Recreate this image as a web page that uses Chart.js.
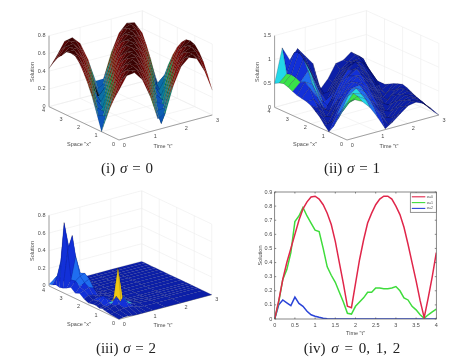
<!DOCTYPE html>
<html><head><meta charset="utf-8">
<script src="https://cdn.jsdelivr.net/npm/chart.js@4"></script>
<style>
html,body{margin:0;padding:0;background:#fff;width:474px;height:363px;overflow:hidden}
.p{position:absolute;width:237px;height:182px}
.p canvas{filter:blur(.35px)}
.c{position:absolute;transform:translateX(-50%);font:15px "Liberation Serif",serif;color:#222;white-space:pre;word-spacing:1px}
.c i{font-style:italic}
</style></head><body>
<div class="p" style="left:0;top:0"><canvas id="a" width="237" height="182"></canvas></div>
<div class="p" style="left:237px;top:0"><canvas id="b" width="237" height="182"></canvas></div>
<div class="p" style="left:0;top:182px"><canvas id="c" width="237" height="182"></canvas></div>
<div class="p" style="left:237px;top:182px"><canvas id="d" width="237" height="182"></canvas></div>
<div class="c" style="left:127px;top:160px">(i) <i>σ</i> = 0</div>
<div class="c" style="left:352px;top:160px">(ii) <i>σ</i> = 1</div>
<div class="c" style="left:126px;top:340px">(iii) <i>σ</i> = 2</div>
<div class="c" style="left:352px;top:340px;word-spacing:2px">(iv) <i>σ</i> = 0, 1, 2</div>
<script>
const timeTicks=[0,1,2,3];
const spaceTicks=[0,1,2,3,4];
const gridT=[0,.25,.5,.75,1,1.25,1.5,1.75,2,2.25,2.5,2.75,3];
const gridX=[0,.25,.5,.75,1,1.25,1.5,1.75,2,2.25,2.5,2.75,3,3.25,3.5,3.75,4];
const sigma0=[
[.56,.70,.71,.61,.40,.12,.17,.45,.64,.72,.68,.52,.28],
[.45,.64,.72,.68,.52,.27,.02,.31,.55,.69,.71,.62,.42],
[.32,.55,.69,.71,.62,.42,.14,.15,.42,.62,.71,.69,.55],
[.16,.43,.63,.72,.69,.54,.30,.01,.28,.53,.68,.72,.64],
[0,.29,.53,.68,.72,.63,.44,.17,.12,.41,.61,.71,.70],
[.16,.13,.42,.61,.71,.70,.56,.32,.03,.26,.51,.67,.72],
[.32,.02,.27,.51,.67,.72,.65,.46,.19,.10,.38,.60,.71],
[.45,.18,.11,.39,.60,.71,.70,.57,.34,.06,.23,.49,.66],
[.56,.34,.05,.24,.50,.66,.72,.66,.47,.22,.07,.37,.58],
[.65,.47,.21,.08,.37,.59,.71,.71,.59,.37,.08,.22,.47],
[.71,.58,.36,.07,.22,.48,.66,.72,.66,.50,.24,.05,.34],
[.72,.66,.49,.23,.06,.35,.57,.70,.71,.60,.39,.11,.19],
[.71,.71,.60,.38,.10,.20,.46,.65,.72,.67,.51,.27,.02],
[.65,.72,.67,.51,.26,.03,.32,.56,.70,.71,.61,.41,.13],
[.60,.70,.71,.61,.40,.12,.17,.44,.63,.72,.68,.53,.29],
[.52,.64,.72,.68,.52,.28,.01,.30,.54,.69,.72,.63,.43],
[.43,.55,.69,.71,.62,.42,.15,.15,.42,.62,.71,.69,.55]];
const sigma1=[
[.75,.8,.72,.55,.3,.02,.12,.25,.37,.4,.33,.18,0],
[.55,.72,.78,.68,.5,.25,.02,.15,.3,.38,.34,.2,.02],
[.35,.6,.8,.75,.62,.38,.12,.08,.27,.36,.35,.24,.05],
[.15,.42,.72,.82,.72,.5,.28,.02,.18,.3,.35,.27,.08],
[0,.3,.6,.78,.8,.65,.42,.15,.08,.26,.33,.3,.11],
[.1,.12,.42,.7,.82,.74,.55,.3,.03,.18,.3,.33,.17],
[.22,.03,.28,.55,.78,.85,.68,.45,.18,.08,.25,.32,.22],
[.3,.15,.1,.42,.68,.82,.8,.6,.33,.05,.2,.3,.27],
[.38,.28,.05,.25,.55,.78,.88,.72,.48,.2,.06,.22,.3],
[.42,.42,.2,.08,.4,.68,.82,.85,.62,.35,.08,.18,.27],
[.44,.62,.38,.08,.25,.55,.78,.9,.72,.48,.22,.06,.23],
[.46,.7,.6,.25,.06,.38,.62,.8,.78,.6,.38,.1,.18],
[.5,.65,.85,.45,.1,.2,.48,.68,.75,.72,.5,.25,.13],
[.55,.7,1.05,.7,.3,.04,.32,.55,.7,.72,.6,.35,.08],
[.58,.72,1.15,.85,.5,.14,.16,.4,.58,.66,.68,.45,.02],
[.55,.7,1.1,1.0,.68,.35,.02,.25,.48,.6,.7,.58,.15],
[.5,1.2,.9,1.1,.9,.7,.12,.3,.57,.6,.72,.6,.25]];
const sigma1Shade=["443210000000","343211000000","233210000000","122211000000","011111000000","001111000000","000111000000","000111000000","100110001000","110011000000","122100011000","123210000000","413210000000","410000000000","410000000000","310000000000"];
const gridT2=[0,.15,.3,.45,.6,.75,.9,1.1,1.5,2,3];
const gridX2=[0,.5,.8,.95,1.12,1.3,1.45,1.75,2,2.25,2.5,2.75,3,3.2,3.4,3.6,3.8,4];
const sigma2=[
[0,.01,.01,0,0,0,0,0,0,0,0],
[.01,.02,.03,.04,.04,.03,.01,0,0,0,0],
[.02,.03,.05,.05,.13,.04,.02,.01,0,0,0],
[.03,.04,.06,.13,.05,.05,.02,.01,0,0,0],
[.02,.03,.05,.06,.42,.06,.02,.01,0,0,0],
[.03,.05,.1,.05,.05,.03,.01,0,0,0,0],
[.03,.06,.1,.05,.02,.02,.01,0,0,0,0],
[.02,.04,.05,.03,.01,.01,0,0,0,0,0],
[.04,.07,.06,.04,.02,.01,0,0,0,0,0],
[.08,.1,.12,.1,.03,.01,0,0,0,0,0],
[.06,.12,.15,.18,.04,.01,0,0,0,0,0],
[.1,.16,.2,.22,.05,.01,0,0,0,0,0],
[.07,.15,.4,.2,.05,.01,0,0,0,0,0],
[.05,.45,.62,.2,.04,.01,0,0,0,0,0],
[.04,.76,.48,.14,.03,.01,0,0,0,0,0],
[.05,.3,.25,.1,.02,.01,0,0,0,0,0],
[.03,.12,.1,.05,.01,0,0,0,0,0,0],
[.02,.06,.05,.02,.01,0,0,0,0,0,0]];
const sigma2Shade=["0000000000","0001100000","0011330000","0135520000","0115510000","0122000000","0111000000","0000000000","1110000000","1121000000","1221000000","1221000000","1111000000","1111000000","1111000000","1211000000","2210000000"];
const zTicks0=[0,.2,.4,.6,.8], zTicks1=[0,.5,1,1.5], zTicks2=[0,.2,.4,.6,.8];
const time=[0,.1,.2,.3,.4,.5,.6,.7,.8,.9,1,1.1,1.2,1.3,1.4,1.5,1.6,1.7,1.8,1.9,2,2.1,2.2,2.3,2.4,2.5,2.6,2.7,2.8,2.9,3,3.1,3.2,3.3,3.4,3.5,3.6,3.7,3.8,3.9,4];
const red=[0,.13,.28,.4,.5,.6,.7,.78,.83,.865,.87,.85,.81,.75,.67,.55,.4,.25,.09,.08,.25,.42,.56,.68,.75,.81,.85,.87,.87,.85,.8,.74,.65,.53,.4,.27,.13,.01,.15,.3,.47];
const green=[0,.12,.28,.35,.47,.69,.73,.79,.73,.68,.63,.62,.5,.37,.31,.26,.19,.12,.04,.035,.09,.12,.15,.19,.19,.22,.22,.215,.215,.22,.23,.2,.15,.135,.09,.065,.03,.005,.03,.05,.07];
const blue=[0,.1,.135,.115,.095,.155,.11,.09,.055,.03,.02,.012,.005,.001,0,0,0,0,0,0,0,0,0,0,0,0,0,0,0,0,0,0,0,0,0,0,0,0,0,0,0];
const seriesNames=["σ=0","σ=1","σ=2"];

const shadePalette=["#0c1fa8","#1230d8","#1f6ef0","#22d8e8","#39e34a","#f0c814"];
const heatStops=[[0,[10,25,225]],[.1,[15,50,215]],[.2,[10,130,150]],[.3,[25,140,50]],[.38,[130,50,15]],[.46,[145,15,10]],[.6,[110,8,8]],[.72,[50,2,2]]];
function heat(v,area){let c=[50,2,2];for(let i=1;i<heatStops.length;i++){if(v<=heatStops[i][0]){const a=heatStops[i-1],b=heatStops[i],f=(v-a[0])/(b[0]-a[0]);c=a[1].map((k,n)=>k+(b[1][n]-k)*f);break;}}
 const dark=1-Math.min(.9,Math.max(0,1-area/14));return `rgb(${c.map(k=>Math.round(k*dark))})`;}

const labelPlugin={id:'labels',afterDraw(ch){const L=ch.options.plugins.labels.list||[];const c=ch.ctx;const sx=ch.scales.x,sy=ch.scales.y;c.save();c.fillStyle='#4a4a4a';c.textBaseline='middle';
 for(const l of L){c.save();c.translate(sx.getPixelForValue(l.x),sy.getPixelForValue(l.y));if(l.rot)c.rotate(l.rot);c.font='5.5px "Liberation Sans",sans-serif';c.textAlign=l.al||'center';c.fillText(l.t,0,0);c.restore();}c.restore();}};

function surface(id,v,T,X,Z,zT,zFmt,colorOf,mesh){
 const P=(t,x,z)=>({x:v.ox+t*v.tx+x*v.xx,y:v.oy+t*v.ty+x*v.xy-z*v.zz});
 const tMax=T[T.length-1],xMax=X[X.length-1],zMax=zT[zT.length-1];
 const cells=[];
 for(let i=0;i<X.length-1;i++)for(let j=0;j<T.length-1;j++){
  const q=[P(T[j],X[i],Z[i][j]),P(T[j+1],X[i],Z[i][j+1]),P(T[j+1],X[i+1],Z[i+1][j+1]),P(T[j],X[i+1],Z[i+1][j])];
  const area=Math.abs((q[2].x-q[0].x)*(q[3].y-q[1].y)-(q[3].x-q[1].x)*(q[2].y-q[0].y))/2;
  const pts=[...q,q[0]];
  const m=(Z[i][j]+Z[i][j+1]+Z[i+1][j]+Z[i+1][j+1])/4;
  const depth=P((T[j]+T[j+1])/2,(X[i]+X[i+1])/2,0).y;
  cells.push({pts,color:colorOf(i,j,m,area),depth});
 }
 cells.sort((a,b)=>b.depth-a.depth);
 const ds=cells.map(c=>({data:c.pts,showLine:true,fill:'shape',backgroundColor:c.color,borderColor:mesh,borderWidth:.4,pointRadius:0,tension:0,clip:false}));
 const line=(a,b,col,w)=>({data:[a,b],showLine:true,fill:false,borderColor:col,borderWidth:w||.6,pointRadius:0,clip:false});
 const g='#ececec',frame=[];
 for(const t of timeTicks){frame.push(line(P(t,0,0),P(t,xMax,0),g),line(P(t,xMax,0),P(t,xMax,zMax),g));}
 for(const x of spaceTicks){frame.push(line(P(0,x,0),P(tMax,x,0),g),line(P(tMax,x,0),P(tMax,x,zMax),g));}
 for(const z of zT){frame.push(line(P(0,xMax,z),P(tMax,xMax,z),g),line(P(tMax,xMax,z),P(tMax,0,z),g));}
 const ax='#8a8a8a';
 const axes=[line(P(0,0,0),P(tMax,0,0),ax,.8),line(P(0,0,0),P(0,xMax,0),ax,.8),line(P(0,xMax,0),P(0,xMax,zMax),ax,.8)];
 const list=[];
 for(const t of timeTicks){const p=P(t,0,0);list.push({t:String(t),x:p.x+5.2,y:p.y+5});}
 for(const x of spaceTicks){const p=P(0,x,0);list.push({t:String(x),x:p.x-5.5,y:p.y+4.3});}
 for(const z of zT){const p=P(0,xMax,z);list.push({t:zFmt(z),x:p.x-3.5,y:p.y,al:'right'});}
 list.push({t:'Solution',x:v.sol[0],y:v.sol[1],rot:-Math.PI/2},{t:'Space "x"',x:v.sp[0],y:v.sp[1]},{t:'Time "t"',x:v.ti[0],y:v.ti[1]});
 new Chart(document.getElementById(id),{type:'scatter',data:{datasets:[...ds,...axes,...frame]},plugins:[labelPlugin],
  options:{responsive:false,animation:false,events:[],layout:{padding:0},
   scales:{x:{type:'linear',min:0,max:237,display:false},y:{type:'linear',min:0,max:182,reverse:true,display:false}},
   plugins:{legend:{display:false},tooltip:{enabled:false},labels:{list}}}});
}
const fmt=z=>String(z);
surface('a',{ox:119,oy:140,tx:31.1,ty:-8.33,xx:-17.5,xy:-8.33,zz:88.7,sol:[32,72],sp:[79,144],ti:[163,146]},gridT,gridX,sigma0,zTicks0,fmt,(i,j,m,a)=>heat(m,a),'rgba(0,0,0,.22)');
surface('b',{ox:110,oy:140,tx:30.6,ty:-8.33,xx:-18.1,xy:-8.17,zz:47.8,sol:[20.7,72],sp:[68,144],ti:[152,146]},gridT,gridX,sigma1,zTicks1,fmt,(i,j)=>shadePalette[+sigma1Shade[i][j]],'rgba(0,0,40,.5)');
surface('c',{ox:119,oy:137.3,tx:30.9,ty:-8.2,xx:-17.5,xy:-8.33,zz:88.3,sol:[32,69],sp:[79,142],ti:[163,143]},gridT2,gridX2,sigma2,zTicks2,fmt,(i,j)=>shadePalette[+sigma2Shade[i][j]],'rgba(0,0,40,.25)');

const toXY=a=>a.map((y,i)=>({x:time[i],y}));
const legendPlugin={id:'boxLegend',afterDraw(ch){const c=ch.ctx,A=ch.chartArea;c.save();c.strokeStyle='#555';c.lineWidth=.7;c.strokeRect(A.left,A.top,A.right-A.left,A.bottom-A.top);
 c.beginPath();for(const s of [ch.scales.x,ch.scales.y])for(const t of s.ticks){const p=s.getPixelForValue(t.value);if(s.axis==='x'){c.moveTo(p,A.bottom);c.lineTo(p,A.bottom-1.5);c.moveTo(p,A.top);c.lineTo(p,A.top+1.5);}else{c.moveTo(A.left,p);c.lineTo(A.left+1.5,p);c.moveTo(A.right,p);c.lineTo(A.right-1.5,p);}}c.stroke();
 const w=26,h=19.5,x=A.right-w,y=A.top+.8;c.fillStyle='#fff';c.fillRect(x,y,w,h);c.strokeStyle='#666';c.strokeRect(x,y,w,h);
 ch.data.datasets.forEach((d,i)=>{const yy=y+4+i*5.8;c.strokeStyle=d.borderColor;c.lineWidth=1.1;c.beginPath();c.moveTo(x+1.5,yy);c.lineTo(x+15,yy);c.stroke();c.fillStyle='#555';c.font='3.6px "Liberation Sans",sans-serif';c.textBaseline='middle';c.textAlign='left';c.fillText(d.label,x+16.5,yy);});c.restore();}};
const tickFont={family:'"Liberation Sans",sans-serif',size:5.5};
const plain=v=>String(+v.toFixed(1));
new Chart(document.getElementById('d'),{type:'line',
 data:{datasets:[
  {label:seriesNames[0],data:toXY(red),borderColor:'#e0264a',borderWidth:1.5,pointRadius:0,tension:0},
  {label:seriesNames[1],data:toXY(green),borderColor:'#3fdc3c',borderWidth:1.5,pointRadius:0,tension:0},
  {label:seriesNames[2],data:toXY(blue),borderColor:'#2a44d8',borderWidth:1.5,pointRadius:0,tension:0}]},
 plugins:[legendPlugin],
 options:{responsive:false,animation:false,events:[],layout:{padding:{top:10,right:37.7,left:20.5,bottom:27.5}},
  scales:{
   x:{type:'linear',min:0,max:4,afterFit(s){s.height=17.5;},grid:{display:false,drawTicks:false,tickLength:0},border:{display:false},
      ticks:{stepSize:.5,font:tickFont,color:'#4a4a4a',padding:3,maxRotation:0,callback:plain},
      title:{display:true,text:'Time "t"',font:tickFont,color:'#4a4a4a',padding:{top:1,bottom:0}}},
   y:{type:'linear',min:0,max:.9,afterFit(s){s.width=17.2;},grid:{display:false,drawTicks:false,tickLength:0},border:{display:false},
      ticks:{stepSize:.1,font:tickFont,color:'#4a4a4a',padding:2.5,callback:plain},
      title:{display:true,text:'Solution',font:tickFont,color:'#4a4a4a',padding:{top:0,bottom:0}}}},
  plugins:{legend:{display:false},tooltip:{enabled:false}}}});
</script>
</body></html>
